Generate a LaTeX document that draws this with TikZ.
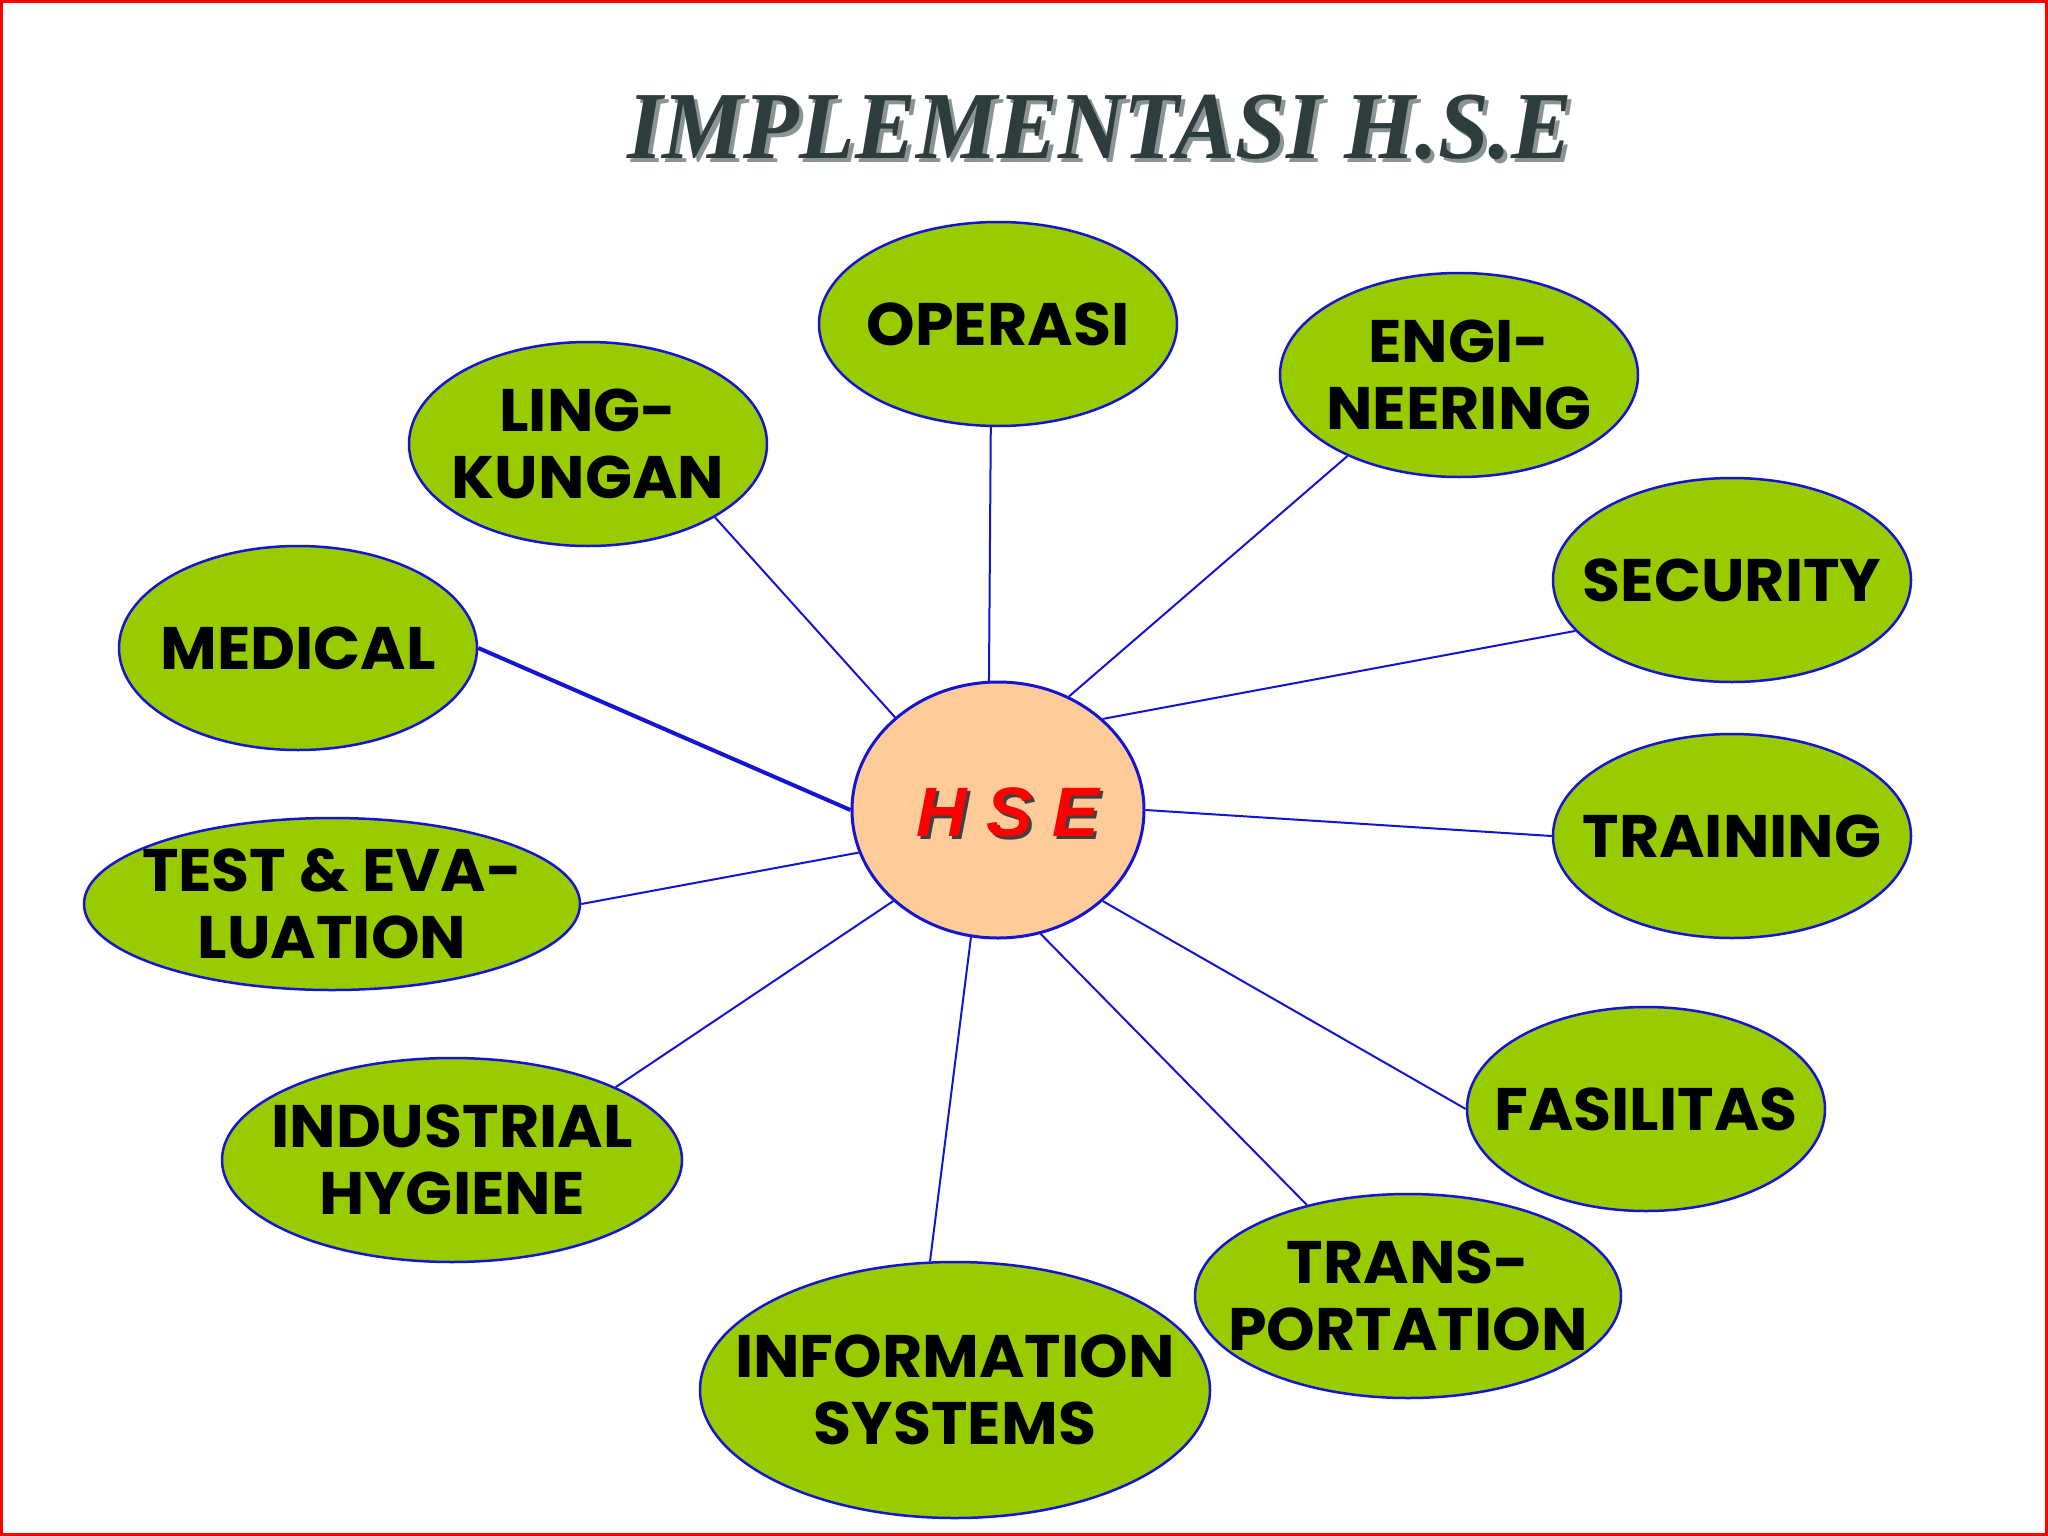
\documentclass[tikz,border=0pt]{standalone}
\usepackage{fontspec}
\setmainfont{Liberation Serif}
\newfontfamily\lblfont[FakeStretch=1.03]{Poppins}
\newfontfamily\hsefont{Liberation Sans}
\usetikzlibrary{shapes.geometric}
\definecolor{leaf}{HTML}{99CC00}
\definecolor{rim}{HTML}{1414D2}
\definecolor{peach}{HTML}{FFCC99}
\definecolor{slate}{HTML}{2D3C3C}
\definecolor{shade}{HTML}{8A9494}
\tikzset{
  bub/.style={ellipse, draw=rim, line width=2.5pt, fill=leaf, inner sep=0pt,
    minimum width=358pt, minimum height=204pt},
  txt/.style={font=\lblfont\bfseries\fontsize{60}{67}\selectfont, align=center,
    inner sep=0pt, text=black},
  link/.style={draw=rim, line width=2pt},
  hsetxt/.style={font=\hsefont\bfseries\itshape\fontsize{70}{70}\selectfont, inner sep=0pt},
  ttl/.style={font=\bfseries\itshape\fontsize{96}{96}\selectfont, inner sep=0pt, anchor=base},
}
\begin{document}
\begin{tikzpicture}[x=1pt, y=-1pt]
\useasboundingbox (0,0) rectangle (2048,1536);
\fill[white] (0,0) rectangle (2048,1536);
\draw[red, line width=6pt] (0,0) rectangle (2048,1536);

% title
\node[ttl, text=shade] (title-s) at (1104,162) {\scalebox{0.95}[1]{IMPLEMENTASI H.S.E}};
\node[ttl, text=slate] (title) at (1100,158) {\scalebox{0.95}[1]{IMPLEMENTASI H.S.E}};

% centre
\node[ellipse, draw=rim, line width=3pt, fill=peach, inner sep=0pt,
  minimum width=292pt, minimum height=256pt] (hse) at (998,810) {};
\node[hsetxt, text=black!75] (hse-s) at (1011,815) {H S E};
\node[hsetxt, text=red] (hse-t) at (1008,812) {H S E};

% bubbles
\node[bub] (op) at (998,324) {};
\node[txt] (op-t) at (op) {OPERASI};
\node[bub] (eng) at (1459,375) {};
\node[txt] (eng-t) at (eng) {ENGI-\\NEERING};
\node[bub] (ling) at (588,444) {};
\node[txt] (ling-t) at (ling) {LING-\\KUNGAN};
\node[bub] (sec) at (1732,580) {};
\node[txt] (sec-t) at (sec) {SECURITY};
\node[bub] (med) at (298,648) {};
\node[txt] (med-t) at (med) {MEDICAL};
\node[bub] (trn) at (1732,836) {};
\node[txt] (trn-t) at (trn) {TRAINING};
\node[bub, minimum width=496pt, minimum height=172pt] (test) at (332,904) {};
\node[txt] (test-t) at (test) {TEST \& EVA-\\LUATION};
\node[bub, minimum width=460pt] (ind) at (452,1160) {};
\node[txt] (ind-t) at (ind) {INDUSTRIAL\\HYGIENE};
\node[bub] (fas) at (1646,1109) {};
\node[txt] (fas-t) at (fas) {FASILITAS};
\node[bub, minimum width=426pt] (trp) at (1408,1296) {};
\node[txt] (trp-t) at (trp) {TRANS-\\PORTATION};
\node[bub, minimum width=510pt, minimum height=256pt] (info) at (955,1390) {};
\node[txt] (info-t) at (info) {INFORMATION\\SYSTEMS};

% connectors
\draw[link] (hse.94) -- (op.266);
\draw[link] (hse.58) -- (eng.216);
\draw[link] (hse.41) -- (sec.198);
\draw[link] (hse.0) -- (trn.180);
\draw[link] (hse.-41) -- (fas.180);
\draw[link] (hse.-71) -- (trp.138);
\draw[link] (hse.258) -- (info.101);
\draw[link] (hse.221) -- (ind.24);
\draw[link] (hse.197) -- (test.0);
\draw[link, line width=4pt] (hse.180) -- (med.0);
\draw[link] (hse.138) -- (ling.330);
\end{tikzpicture}
\end{document}
